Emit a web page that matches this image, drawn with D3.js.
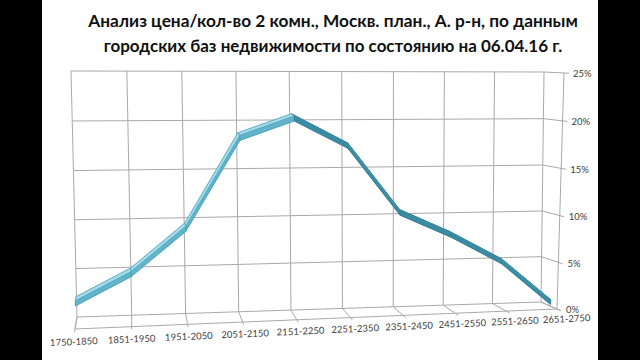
<!DOCTYPE html>
<html><head><meta charset="utf-8">
<script src="https://cdn.jsdelivr.net/npm/d3@7"></script>
<style>body{margin:0;background:#000}</style>
</head><body>
<svg id="c" width="640" height="360"></svg>
<script>
const categories = ["1750-1850","1851-1950","1951-2050","2051-2150","2151-2250","2251-2350","2351-2450","2451-2550","2551-2650","2651-2750"];
const shares = [2.4, 5.2, 9.7, 18.9, 20.8, 17.9, 10.8, 8.3, 5.3, 0.7];
const valueTicks = [0, 5, 10, 15, 20, 25];
const valueLabels = ["0%", "5%", "10%", "15%", "20%", "25%"];
const titleLines = ["Анализ цена/кол-во 2 комн., Москв. план., А. р-н, по данным",
                    "городских баз недвижимости по состоянию на 06.04.16 г."];

const svg = d3.select("#c");
svg.append("rect").attr("x",0).attr("y",0).attr("width",640).attr("height",360).attr("fill","#000");
svg.append("rect").attr("x",42).attr("y",0).attr("width",556).attr("height",360).attr("fill","#fff");

// back wall: perspective homography from its four corners; depth: bilinear offset
const BL=[77,317], BR=[541,302], TR=[544,72], TL=[71,71];
const D00=[-2,12], D10=[16,7], D01=[-1,9], D11=[20,1];
function buildH(){
  const [x0,y0]=BL,[x1,y1]=BR,[x2,y2]=TR,[x3,y3]=TL;
  const dx1=x1-x2, dx2=x3-x2, dx3=x0-x1+x2-x3;
  const dy1=y1-y2, dy2=y3-y2, dy3=y0-y1+y2-y3;
  const den=dx1*dy2-dx2*dy1;
  const g=(dx3*dy2-dx2*dy3)/den, h=(dx1*dy3-dx3*dy1)/den;
  const a=x1-x0+g*x1, b=x3-x0+h*x3, c=x0;
  const d=y1-y0+g*y1, e=y3-y0+h*y3, f=y0;
  return (u,w)=>{ const W=g*u+h*w+1; return [(a*u+b*w+c)/W,(d*u+e*w+f)/W]; };
}
const H = buildH();
function P(u,w,z){
  const p=H(u,w);
  const dx=(1-u)*(1-w)*D00[0]+u*(1-w)*D10[0]+(1-u)*w*D01[0]+u*w*D11[0];
  const dy=(1-u)*(1-w)*D00[1]+u*(1-w)*D10[1]+(1-u)*w*D01[1]+u*w*D11[1];
  return [p[0]+z*dx, p[1]+z*dy];
}
const uScale = d3.scalePoint().domain(categories).range([0,1]);
const wScale = d3.scaleLinear().domain([0,25]).range([0,1]);

const grid = svg.append("g").attr("stroke","#a9a9a9").attr("stroke-width",1).attr("fill","none");
const seg = (p,q)=>grid.append("line").attr("x1",p[0]).attr("y1",p[1]).attr("x2",q[0]).attr("y2",q[1]);

valueTicks.forEach(v=>{ const w=wScale(v); seg(P(0,w,0),P(1,w,0)); });
categories.forEach(cat=>{ const u=uScale(cat); seg(P(u,0,0),P(u,1,0)); });
seg(P(0,0,1),P(1,0,1));
seg(P(0,0,0),P(0,0,1));
categories.forEach(cat=>{ const u=uScale(cat); seg(P(u,0,0),P(u,0,1.25)); });
seg(P(1,0,1),P(1,1,1));
valueTicks.forEach(v=>{ const w=wScale(v); seg(P(1,w,0),P(1,w,1.25)); });

svg.append("g").selectAll("text").data(valueTicks).join("text")
  .attr("x",v=>P(1,wScale(v),1)[0]+9)
  .attr("y",v=>P(1,wScale(v),1)[1]+2)
  .attr("dominant-baseline","middle")
  .attr("font-family","Lato, 'Open Sans', sans-serif").attr("font-size",9.5).attr("fill","#404040")
  .text((v,i)=>valueLabels[i]);

const ang = Math.atan2(P(1,0,1)[1]-P(0,0,1)[1], P(1,0,1)[0]-P(0,0,1)[0])*180/Math.PI;
svg.append("g").selectAll("text").data(categories).join("text")
  .attr("transform",c=>{const p=P(uScale(c),0,1.6); return `translate(${p[0]},${p[1]+6.5}) rotate(${ang})`;})
  .attr("text-anchor","middle").attr("dominant-baseline","middle")
  .attr("font-family","Lato, 'Open Sans', sans-serif").attr("font-size",9.5).attr("fill","#404040")
  .text(c=>c);

// ribbon: top face (depth z1..z2) + front face (small height below the value)
const z1=0.25, z2=0.6, hh=0.021;
const ribbon = svg.append("g").attr("stroke-linejoin","round");
const poly = (pts,fill,stroke)=>ribbon.append("polygon").attr("points",pts.map(p=>p.join(",")).join(" "))
  .attr("fill",fill).attr("stroke",stroke).attr("stroke-width",1);
for(let i=0;i<shares.length-1;i++){
  const ua=uScale(categories[i]), ub=uScale(categories[i+1]);
  const wa=wScale(shares[i]), wb=wScale(shares[i+1]);
  const rising = shares[i+1] > shares[i];
  const top=[P(ua,wa,z1),P(ub,wb,z1),P(ub,wb,z2),P(ua,wa,z2)];
  const front=[P(ua,wa,z2),P(ub,wb,z2),P(ub,wb-hh,z2),P(ua,wa-hh,z2)];
  if(rising){
    poly(front,"#62b4ca","#4aa3bb");
    poly(top,"#a6dbe8","#58adc4");
  } else {
    poly(front,"#3b8ca3","#357f95");
    poly(top,"#4499b0","#3a8aa1");
  }
}

const title = svg.append("g").attr("font-family","Lato, 'Open Sans', sans-serif").attr("font-weight","bold").attr("fill","#111");
const targets=[{y:27,w:490},{y:52,w:459}];
titleLines.forEach((t,i)=>{
  const el = title.append("text").attr("x",333).attr("y",targets[i].y).attr("text-anchor","middle").attr("font-size",16).text(t);
  const len = el.node().getComputedTextLength();
  el.attr("font-size", 16*targets[i].w/len);
});
</script>
</body></html>
